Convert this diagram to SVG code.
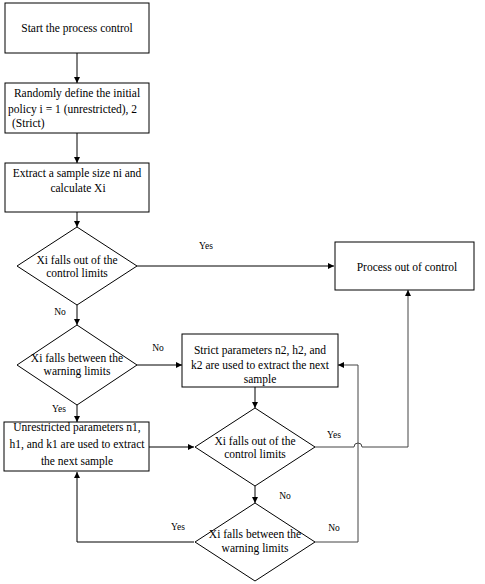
<svg xmlns="http://www.w3.org/2000/svg" width="485" height="584" viewBox="0 0 485 584">
<defs>
<marker id="ah" viewBox="0 0 10 10" refX="10" refY="5" markerWidth="6" markerHeight="6" orient="auto" markerUnits="userSpaceOnUse">
<path d="M0,0 L10,5 L0,10 z" fill="#000"/>
</marker>
</defs>
<style>
.box{fill:#fff;stroke:#000;stroke-width:1}
.t{font-family:"Liberation Serif","Times New Roman",serif;font-size:11.5px;fill:#000;text-anchor:middle}
.l{font-family:"Liberation Serif","Times New Roman",serif;font-size:9.5px;fill:#000;text-anchor:middle}
.c{fill:none;stroke:#000;stroke-width:1}
.g{fill:none;stroke:#444;stroke-width:1}
</style>
<rect width="485" height="584" fill="#fff"/>
<g id="connectors">
<path class="c" d="M77,53 V83" marker-end="url(#ah)"/>
<path class="c" d="M77,133 V163" marker-end="url(#ah)"/>
<path class="c" d="M77,212 V227" marker-end="url(#ah)"/>
<path class="c" d="M137,266 H334" marker-end="url(#ah)"/>
<path class="c" d="M77,305 V325" marker-end="url(#ah)"/>
<path class="c" d="M137,365 H182" marker-end="url(#ah)"/>
<path class="c" d="M77,405 V422" marker-end="url(#ah)"/>
<path class="c" d="M149,447 H194" marker-end="url(#ah)"/>
<path class="c" d="M255,387 V408" marker-end="url(#ah)"/>
<path class="c" d="M255,486 V503" marker-end="url(#ah)"/>
<path class="g" d="M315,447 H354 a4,4 0 0 1 8,0 H408 V290" marker-end="url(#ah)"/>
<path class="g" d="M315,542 H358 V365 H338" marker-end="url(#ah)"/>
<path class="c" d="M194,542 H77 V472" marker-end="url(#ah)"/>
<text class="l" x="206" y="249">Yes</text>
<text class="l" x="60" y="315">No</text>
<text class="l" x="158" y="351">No</text>
<text class="l" x="59" y="412">Yes</text>
<text class="l" x="334" y="438">Yes</text>
<text class="l" x="285" y="499">No</text>
<text class="l" x="334" y="531">No</text>
<text class="l" x="178" y="530">Yes</text>
</g>
<g id="start">
<rect class="box" x="5" y="3" width="144" height="50"/>
<text class="t" x="77" y="32">Start the process control</text>
</g>
<g id="define">
<rect class="box" x="5" y="83" width="144" height="50"/>
<text class="t" x="77" y="97">Randomly define the initial</text>
<text class="t" x="8" y="113" style="text-anchor:start">policy i = 1 (unrestricted), 2</text>
<text class="t" x="12" y="127" style="text-anchor:start">(Strict)</text>
</g>
<g id="extract">
<rect class="box" x="5" y="163" width="144" height="49"/>
<text class="t" x="77" y="177">Extract a sample size ni and</text>
<text class="t" x="78" y="192">calculate Xi</text>
</g>
<g id="d1">
<polygon class="box" points="77,227 137,266 77,305 17,266"/>
<text class="t" x="77" y="264">Xi falls out of the</text>
<text class="t" x="77" y="277">control limits</text>
</g>
<g id="out">
<rect class="box" x="335" y="242" width="139" height="48"/>
<text class="t" x="407" y="271">Process out of control</text>
</g>
<g id="d2">
<polygon class="box" points="77,325 137,365 77,405 17,365"/>
<text class="t" x="77" y="362">Xi falls between the</text>
<text class="t" x="77" y="375">warning limits</text>
</g>
<g id="strict">
<rect class="box" x="182" y="334" width="156" height="53"/>
<text class="t" x="260" y="354">Strict parameters n2, h2, and</text>
<text class="t" x="260" y="369">k2 are used to extract the next</text>
<text class="t" x="260" y="383">sample</text>
</g>
<g id="unres">
<rect class="box" x="4" y="422" width="145" height="49"/>
<text class="t" x="77" y="431">Unrestricted parameters n1,</text>
<text class="t" x="77" y="448">h1, and k1 are used to extract</text>
<text class="t" x="77" y="465">the next sample</text>
</g>
<g id="d3">
<polygon class="box" points="255,408 315,447 255,486 195,447"/>
<text class="t" x="255" y="445">Xi falls out of the</text>
<text class="t" x="255" y="458">control limits</text>
</g>
<g id="d4">
<polygon class="box" points="255,503 315,542 255,581 195,542"/>
<text class="t" x="255" y="538">Xi falls between the</text>
<text class="t" x="255" y="552">warning limits</text>
</g>
</svg>
